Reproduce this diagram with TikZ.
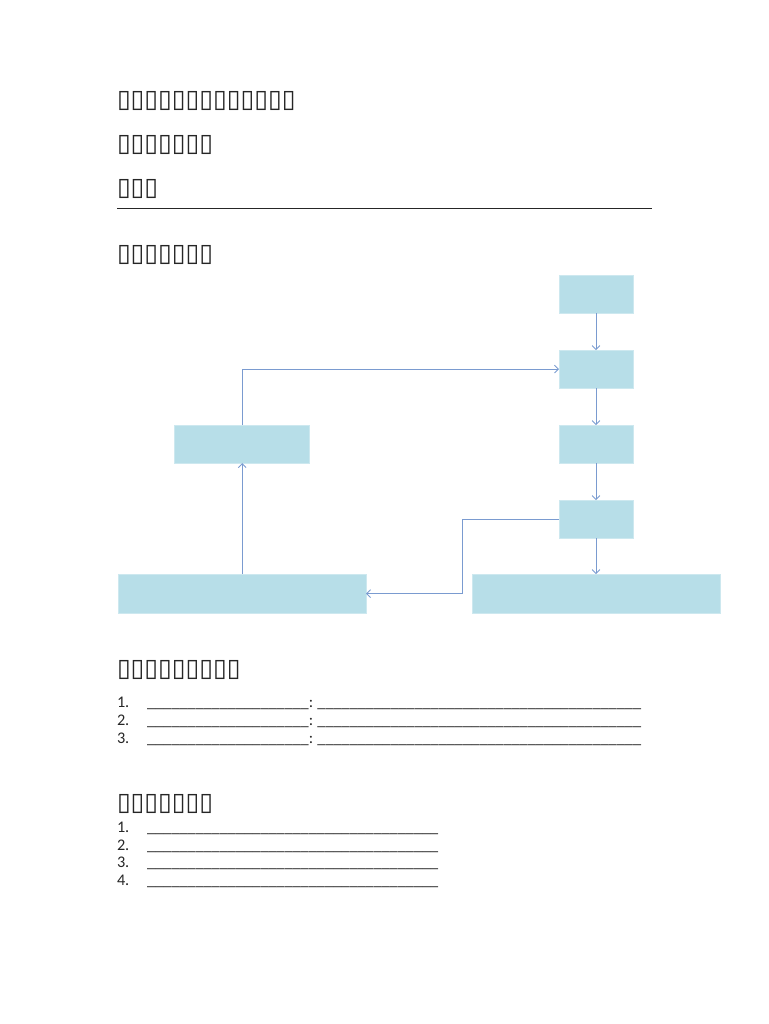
\documentclass[tikz,border=0pt]{standalone}
\usepackage{fontspec}
\setmainfont{Carlito}
\newfontfamily\tofufont{DejaVu Sans}
\usetikzlibrary{positioning, arrows.meta}

\definecolor{boxfill}{HTML}{B7DEE8}
\definecolor{flowline}{HTML}{7A9BD0}
\definecolor{inkgray}{HTML}{262626}

\begin{document}
\begin{tikzpicture}[
  x=0.2812mm, y=-0.2812mm,
  node distance=10.4mm,
  txt/.style={anchor=base west, inner sep=0pt, outer sep=0pt, text=inkgray, font=\fontsize{13}{15}\selectfont},
  tofu/.style={txt, font=\tofufont\fontsize{20}{22}\selectfont},
  stagebox/.style={draw=boxfill!70!white, fill=boxfill, line width=0.4pt, inner sep=0pt, outer sep=0pt, minimum width=20.8mm, minimum height=10.7mm},
  widebox/.style={stagebox, minimum width=69.7mm, minimum height=11mm},
  flow/.style={draw=flowline, line width=0.7pt, -{Straight Barb[length=1.1mm, width=2.2mm]}}
]
\useasboundingbox (0,0) rectangle (768,1024);

% Header
\node[tofu] (title) at (117,107) {▯▯▯▯▯▯▯▯▯▯▯▯▯};
\node[tofu] (course) at (117,151) {▯▯▯▯▯▯▯};
\node[tofu] (name) at (117,195) {▯▯▯};
\draw[inkgray, line width=0.6pt] (117,208) -- (652,208);

% Flow chart
\node[tofu] (flowtitle) at (117,261) {▯▯▯▯▯▯▯};
\node[stagebox] (s1) at (596,294) {};
\node[stagebox, below=of s1] (s2) {};
\node[stagebox, below=of s2] (s3) {};
\node[stagebox, below=of s3] (s4) {};
\node[widebox, below=10.1mm of s4] (done) {};
\node[widebox, left=29.8mm of done] (retry) {};
\node[stagebox, minimum width=38mm] (fix) at (retry |- s3) {};

\draw[flow] (s1) -- (s2);
\draw[flow] (s2) -- (s3);
\draw[flow] (s3) -- (s4);
\draw[flow] (s4) -- (done);
\draw[flow] (s4.west) -- ++(-97,0) |- (retry.east);
\draw[flow] (retry) -- (fix);
\draw[flow] (fix.north) |- (s2.west);

% Terms
\node[tofu] (termtitle) at (117,676) {▯▯▯▯▯▯▯▯▯};
\node[txt] (t1) at (117,707) {1.};
\node[txt] (t2) at (117,725) {2.};
\node[txt] (t3) at (117,743) {3.};
\foreach \r in {1,2,3}
  \node[txt, anchor=base west] at (147,0 |- t\r.base) {\_\_\_\_\_\_\_\_\_\_\_\_\_\_\_\_\_\_\_\_:\hspace{1.2mm}\_\_\_\_\_\_\_\_\_\_\_\_\_\_\_\_\_\_\_\_\_\_\_\_\_\_\_\_\_\_\_\_\_\_\_\_\_\_\_\_};

% Notes
\node[tofu] (notetitle) at (117,810) {▯▯▯▯▯▯▯};
\node[txt] (n1) at (117,832) {1.};
\node[txt] (n2) at (117,850) {2.};
\node[txt] (n3) at (117,867) {3.};
\node[txt] (n4) at (117,885) {4.};
\foreach \r in {1,2,3,4}
  \node[txt, anchor=base west] at (147,0 |- n\r.base) {\_\_\_\_\_\_\_\_\_\_\_\_\_\_\_\_\_\_\_\_\_\_\_\_\_\_\_\_\_\_\_\_\_\_\_\_};

\end{tikzpicture}
\end{document}
